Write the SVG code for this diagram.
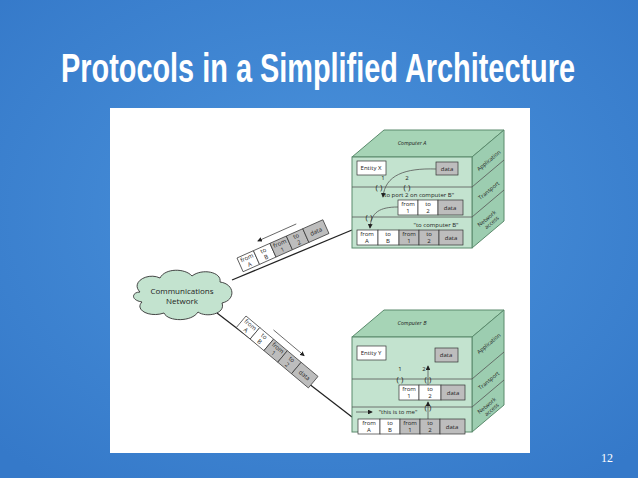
<svg xmlns="http://www.w3.org/2000/svg" width="638" height="478" viewBox="0 0 638 478">
<defs>
<radialGradient id="bg" cx="50%" cy="45%" r="70%"><stop offset="0" stop-color="#4b93dc"/><stop offset="1" stop-color="#3579c9"/></radialGradient>
<marker id="ah" markerWidth="6" markerHeight="6" refX="5" refY="3" orient="auto"><path d="M0,0L6,3L0,6z" fill="#222"/></marker>
<style>
text{font-family:"Open Sans","Liberation Sans",sans-serif;fill:#222}
.face{fill:#c3e3cf;stroke:#5a8a6c;stroke-width:1}
.top{fill:#a6d4b6;stroke:#5a8a6c}
.side{fill:#9ccdb0;stroke:#5a8a6c}
.c{fill:#fff;stroke:#333;stroke-width:0.7}
.g{fill:#bdbdbd;stroke:#333;stroke-width:0.7}
.t{font-size:6px;text-anchor:middle}
.b{font-size:8px;text-anchor:middle}
.l{stroke:#555;stroke-width:0.8;fill:none}
.w{stroke:#222;stroke-width:1.3}
.lab{font-size:5.5px;text-anchor:middle}
</style>
</defs>
<rect width="638" height="478" fill="url(#bg)"/>
<text x="318" y="82" text-anchor="middle" style="font-family:'Liberation Sans',sans-serif;font-weight:bold;font-size:40px;fill:#fff" textLength="514" lengthAdjust="spacingAndGlyphs">Protocols in a Simplified Architecture</text>
<text x="601" y="462" style="font-family:'Liberation Serif',serif;font-size:12px;fill:#fff">12</text>
<rect x="110" y="108" width="420" height="345" fill="#fff"/>

<g id="connectors">
<line class="w" x1="232" y1="280" x2="352" y2="230"/>
<line class="w" x1="217" y1="313" x2="352" y2="417"/>
</g>

<g id="cloud">
<path d="M140,292 C130,282 148,272 160,278 C165,268 185,268 192,276 C202,268 222,272 220,282 C235,284 236,300 222,303 C226,314 206,318 198,312 C192,322 168,322 164,313 C150,318 134,310 142,302 C130,300 132,292 140,292 Z" fill="#c3e3cf" stroke="#333" stroke-width="0.9"/>
<text x="182" y="294" class="t" style="font-size:8px">Communications</text>
<text x="182" y="304" class="t" style="font-size:8px">Network</text>
</g>

<g id="packet-up" transform="translate(237,258) rotate(-24)">
<rect class="c" x="0" y="0" width="18" height="15"/><rect class="c" x="18" y="0" width="18" height="15"/>
<rect class="g" x="36" y="0" width="18" height="15"/><rect class="g" x="54" y="0" width="18" height="15"/><rect class="g" x="72" y="0" width="22" height="15"/>
<text class="t" x="9" y="6">from</text><text class="t" x="9" y="13">A</text>
<text class="t" x="27" y="6">to</text><text class="t" x="27" y="13">B</text>
<text class="t" x="45" y="6">from</text><text class="t" x="45" y="13">1</text>
<text class="t" x="63" y="6">to</text><text class="t" x="63" y="13">2</text>
<text class="t" x="83" y="10">data</text>
<line class="l" x1="68" y1="-7" x2="26" y2="-7" marker-end="url(#ah)"/>
</g>

<g id="packet-down" transform="translate(246,316) rotate(40)">
<rect class="c" x="0" y="0" width="18" height="15"/><rect class="c" x="18" y="0" width="18" height="15"/>
<rect class="g" x="36" y="0" width="18" height="15"/><rect class="g" x="54" y="0" width="18" height="15"/><rect class="g" x="72" y="0" width="22" height="15"/>
<text class="t" x="9" y="6">from</text><text class="t" x="9" y="13">A</text>
<text class="t" x="27" y="6">to</text><text class="t" x="27" y="13">B</text>
<text class="t" x="45" y="6">from</text><text class="t" x="45" y="13">1</text>
<text class="t" x="63" y="6">to</text><text class="t" x="63" y="13">2</text>
<text class="t" x="83" y="10">data</text>
<line class="l" x1="30" y1="-7" x2="70" y2="-7" marker-end="url(#ah)"/>
</g>

<g id="computerA">
<polygon class="top" points="352,157 384,130 504,130 472,157"/>
<polygon class="side" points="472,157 504,130 504,221 472,248"/>
<rect class="face" x="352" y="157" width="120" height="91"/>
<line class="l" x1="352" y1="187" x2="472" y2="187"/><line class="l" x1="352" y1="217" x2="472" y2="217"/>
<line class="l" x1="472" y1="187" x2="504" y2="160"/><line class="l" x1="472" y1="217" x2="504" y2="190"/>
<text x="412" y="145" class="lab" font-style="italic">Computer A</text>
<text class="lab" transform="translate(490,162) rotate(-40)">Application</text>
<text class="lab" transform="translate(490,192) rotate(-40)">Transport</text>
<text class="lab" transform="translate(488,220) rotate(-40)">Network</text>
<text class="lab" transform="translate(493,224) rotate(-40)">access</text>
<rect class="c" x="357" y="161" width="29" height="14"/><text x="371" y="170" class="t">Entity X</text>
<rect class="g" x="436" y="162" width="22" height="13"/><text x="447" y="171" class="t">data</text>
<path class="l" d="M436,169 C405,168 385,175 383,197" marker-end="url(#ah)"/>
<text x="383" y="180" class="t">1</text><text x="379" y="190" class="b">(  )</text>
<text x="407" y="180" class="t">2</text><text x="407" y="190" class="b">(  )</text>
<text x="418" y="197" class="t">"to port 2 on computer B"</text>
<rect class="c" x="398" y="200" width="20" height="15"/><rect class="c" x="418" y="200" width="20" height="15"/><rect class="g" x="438" y="200" width="25" height="15"/>
<text class="t" x="408" y="206">from</text><text class="t" x="408" y="213">1</text>
<text class="t" x="428" y="206">to</text><text class="t" x="428" y="213">2</text>
<text class="t" x="450" y="210">data</text>
<path class="l" d="M398,207 C380,207 371,212 370,228" marker-end="url(#ah)"/>
<text x="369" y="220" class="b">(  )</text>
<text x="436" y="227" class="t">"to computer B"</text>
<rect class="c" x="357" y="230" width="21" height="15"/><rect class="c" x="378" y="230" width="21" height="15"/>
<rect class="g" x="399" y="230" width="20" height="15"/><rect class="g" x="419" y="230" width="20" height="15"/><rect class="g" x="439" y="230" width="24" height="15"/>
<text class="t" x="367" y="236">from</text><text class="t" x="367" y="243">A</text>
<text class="t" x="388" y="236">to</text><text class="t" x="388" y="243">B</text>
<text class="t" x="409" y="236">from</text><text class="t" x="409" y="243">1</text>
<text class="t" x="429" y="236">to</text><text class="t" x="429" y="243">2</text>
<text class="t" x="451" y="240">data</text>
</g>

<g id="computerB">
<polygon class="top" points="352,337 384,310 504,310 472,337"/>
<polygon class="side" points="472,337 504,310 504,405 472,432"/>
<rect class="face" x="352" y="337" width="120" height="95"/>
<line class="l" x1="352" y1="379" x2="472" y2="379"/><line class="l" x1="352" y1="407" x2="472" y2="407"/>
<line class="l" x1="472" y1="379" x2="504" y2="352"/><line class="l" x1="472" y1="407" x2="504" y2="380"/>
<text x="412" y="325" class="lab" font-style="italic">Computer B</text>
<text class="lab" transform="translate(490,345) rotate(-40)">Application</text>
<text class="lab" transform="translate(490,382) rotate(-40)">Transport</text>
<text class="lab" transform="translate(488,407) rotate(-40)">Network</text>
<text class="lab" transform="translate(493,411) rotate(-40)">access</text>
<rect class="c" x="357" y="346" width="29" height="14"/><text x="371" y="355" class="t">Entity Y</text>
<rect class="g" x="435" y="348" width="23" height="14"/><text x="446" y="357" class="t">data</text>
<text x="400" y="371" class="t">1</text><text x="400" y="382" class="b">(  )</text>
<text x="424" y="371" class="t">2</text><text x="428" y="382" class="b">(  )</text>
<line class="l" x1="428" y1="385" x2="428" y2="366" marker-end="url(#ah)"/>
<rect class="c" x="399" y="385" width="20" height="15"/><rect class="c" x="419" y="385" width="22" height="15"/><rect class="g" x="441" y="385" width="24" height="15"/>
<text class="t" x="409" y="391">from</text><text class="t" x="409" y="398">1</text>
<text class="t" x="430" y="391">to</text><text class="t" x="430" y="398">2</text>
<text class="t" x="453" y="395">data</text>
<text x="428" y="410" class="b">(  )</text>
<line class="l" x1="428" y1="419" x2="428" y2="402" marker-end="url(#ah)"/>
<line class="l" x1="356" y1="412" x2="372" y2="412" marker-end="url(#ah)"/>
<text x="398" y="414" class="t">"this is to me"</text>
<rect class="c" x="358" y="419" width="22" height="15"/><rect class="c" x="380" y="419" width="20" height="15"/>
<rect class="g" x="400" y="419" width="20" height="15"/><rect class="g" x="420" y="419" width="20" height="15"/><rect class="g" x="440" y="419" width="25" height="15"/>
<text class="t" x="369" y="425">from</text><text class="t" x="369" y="432">A</text>
<text class="t" x="390" y="425">to</text><text class="t" x="390" y="432">B</text>
<text class="t" x="410" y="425">from</text><text class="t" x="410" y="432">1</text>
<text class="t" x="430" y="425">to</text><text class="t" x="430" y="432">2</text>
<text class="t" x="452" y="429">data</text>
</g>
</svg>
